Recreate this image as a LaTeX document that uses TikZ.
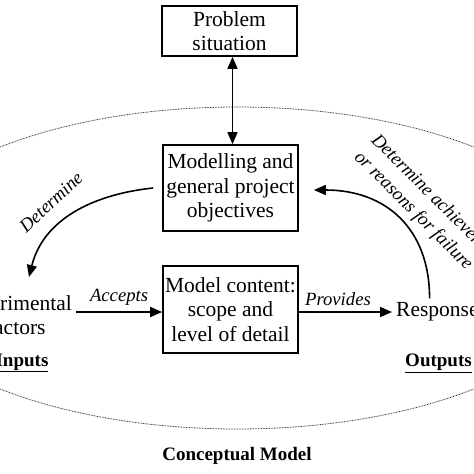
\documentclass[tikz,border=0pt]{standalone}
\usepackage{fontspec}
\setmainfont{Liberation Serif}
\usetikzlibrary{arrows.meta,calc}

\begin{document}
\begin{tikzpicture}[
        x=1pt, y=1pt,
        font=\fontsize{21.5}{24.5}\selectfont,
        block/.style={rectangle, draw, line width=1.7pt, minimum width=135pt, align=center, inner sep=0pt},
        txt/.style={align=center, inner sep=4pt},
        lbl/.style={font=\fontsize{18.7}{24}\selectfont\itshape},
        head/.style={font=\fontsize{19}{22}\selectfont\bfseries},
        arrow/.style={-{Triangle[length=12pt,width=10pt]}, line width=1.6pt},
        dblarrow/.style={{Triangle[length=12pt,width=10pt]}-{Triangle[length=12pt,width=10pt]}, line width=1.6pt}
    ]
        \useasboundingbox (0,0) rectangle (474,-474);
        \clip (0,0) rectangle (474,-474);

        % Conceptual model boundary
        \draw[line width=0.8pt, dash pattern=on 0.8pt off 0.8pt, black!80] (237,-268) ellipse [x radius=359, y radius=161];

        % Blocks
        \node[block, minimum height=50pt] (prob) at (229.5,-31) {Problem\\situation};
        \node[block, minimum height=86pt] (obj) at (230.5,-188) {Modelling and\\general project\\objectives};
        \node[block, minimum height=87pt] (cont) at (230.5,-309.5) {Model content:\\scope and\\level of detail};

        % Inputs and outputs
        \node[txt, anchor=east] (exp) at (76,-315) {Experimental\\Factors};
        \node[txt, anchor=west] (resp) at (392,-312) {Responses};
        \coordinate (detEnd) at (29,-277);

        % Arrows
        \draw[dblarrow] ([xshift=3pt]prob.south) -- ([xshift=2pt]obj.north);
        \draw[arrow] (exp.east |- resp) -- node[lbl, above=2pt] {Accepts} (cont.west |- resp);
        \draw[arrow] (cont.east |- resp) -- node[lbl, above=2pt, pos=0.42] {Provides} (resp.west);
        \draw[arrow] ([xshift=-9pt]obj.west) to[out=186, in=76] (detEnd);
        \draw[arrow] ([xshift=-12pt]resp.north) .. controls +(0,70) and +(72,0) .. ([xshift=15pt,yshift=-2pt]obj.east);

        % Arc labels
        \node[lbl, rotate=43] (det) at (51,-202) {Determine};
        \node[lbl, rotate=-45, align=left] (ach) at (428,-209) {Determine achievement\\or reasons for failure};

        % Headings
        \node[head] (inp) at (22,-363) {\underline{Inputs}};
        \node[head] (outp) at (438.5,-363) {\underline{Outputs}};
        \node[head] (cm) at (237,-456) {Conceptual Model};

    \end{tikzpicture}
\end{document}
